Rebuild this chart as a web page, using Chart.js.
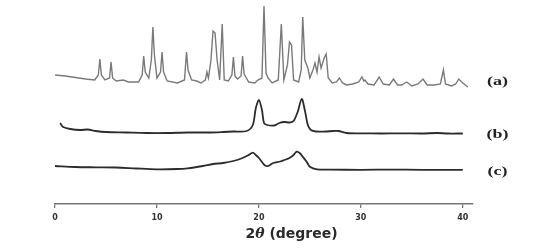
<!DOCTYPE html>
<html><head><meta charset="utf-8">
<script src="https://cdn.jsdelivr.net/npm/chart.js@4.4.0/dist/chart.umd.min.js"></script>
<style>html,body{margin:0;padding:0;background:#fff}canvas{display:block}</style>
</head><body><canvas id="c" width="545" height="252"></canvas>
<script>
// Pattern (a): 2-theta (degree) and offset intensity (arb. units)
const thetaA=[0.0,1.0,2.0,3.0,3.9,4.25,4.4,4.55,4.9,5.35,5.5,5.65,6.0,6.7,7.2,8.2,8.55,8.7,8.85,9.2,9.45,9.6,9.75,10.0,10.35,10.5,10.65,11.0,12.0,12.7,12.9,13.05,13.4,13.9,14.3,14.75,14.9,15.05,15.3,15.5,15.7,15.9,16.15,16.4,16.6,17.0,17.35,17.5,17.65,17.9,18.25,18.4,18.55,19.0,19.6,19.9,20.3,20.5,20.7,20.9,21.3,21.9,22.2,22.45,22.8,23.0,23.2,23.4,23.9,24.15,24.3,24.5,24.8,25.0,25.3,25.5,25.7,25.9,26.1,26.4,26.6,26.8,27.2,27.6,27.9,28.2,28.6,29.2,29.8,30.1,30.3,30.4,30.7,31.3,31.8,32.2,32.8,33.2,33.6,34.0,34.5,35.0,35.6,36.1,36.5,37.2,37.8,38.1,38.3,38.9,39.3,39.6,40.0,40.5];
const intensityA=[129,128,126.5,125,124,129,145,129,124,126,142,126,123,124,122,122,129,148,132,126,144,177,149,126,132,152,132,123,121,124,152,134,124,123,121,124,132,126,144,173,171,144,124,180,124,123,129,147,128,125,128,148,130,122,121,124,126,198,131,126,121,124,180,124,139,162,159,124,122,134,187,144,136,126,134,141,132,147,136,146,150,126,121,122,126,121,119,120,122,127,123,124,120,119,127,120,119,125,119,119,122,118,120,125,119,119,120,134,120,118,120,125,121,117];
// Pattern (b)
const thetaB=[0.5,0.8,1.5,2.5,3.2,4.0,5.0,7.0,9.0,11,13,15,16.5,17.5,18.8,19.4,19.7,20.0,20.3,20.5,20.8,21.5,22.0,22.5,23.0,23.4,23.8,24.2,24.5,24.8,25.1,25.6,26.5,27.3,27.8,28.6,30,32,34,36,37.5,38.5,40];
const intensityB=[81,77,75,74,74.5,73,72,71.5,71,71,71.5,71.5,72,72.5,73,79,96,104,94,81,79,78.5,81,82,81.5,83,92,105,94,79,74,72.5,72.5,73,73,71,70.7,70.5,70.7,70.5,71,70.5,70.5];
// Pattern (c)
const thetaC=[0,2,4,6,8,10,12,13,14.5,15.5,16.5,17.5,18.4,19.0,19.4,19.7,20.0,20.3,20.6,20.9,21.4,22.1,22.5,23.0,23.4,23.7,24.0,24.3,24.7,25.0,25.7,27,30,33,36,40];
const intensityC=[38,37,36.7,36.5,35.5,34.7,35,35.7,38,40,41,43,46,49,51.3,49,46,42,38.5,38,41,42.5,44,46,49,52.3,51,47.3,42,37.3,34.7,34.4,34.2,34.4,34.2,34.2];
// Axis ticks and labels
const tickValues=[0,10,20,30,40];
const seriesLabels=['(a)','(b)','(c)'];
const titleParts=['2','\u03b8',' (degree)'];

const toPts=(xs,ys)=>xs.map((x,i)=>({x:x,y:ys[i]}));

const labelPlugin={
  id:'labels',
  afterDraw(chart){
    const ctx=chart.ctx, xs=chart.scales.x, ys=chart.scales.y;
    ctx.save();
    const series=[intensityA,intensityB,intensityC];
    const lift=[-5,1.5,1.8];
    ctx.fillStyle='#222';
    ctx.font='bold 12px "Liberation Serif"';
    ctx.textBaseline='middle';
    ctx.textAlign='center';
    series.forEach((arr,i)=>{
      const px=xs.getPixelForValue(43.4);
      const py=ys.getPixelForValue(arr[arr.length-1]-lift[i]);
      ctx.save();
      ctx.translate(px,py);
      ctx.scale(1.5,1);
      ctx.fillText(seriesLabels[i],0,0);
      ctx.restore();
    });
    const fonts=['bold 14px "DejaVu Sans"','italic bold 14px "DejaVu Serif"','bold 14px "DejaVu Sans"'];
    let widths=titleParts.map((t,i)=>{ctx.font=fonts[i];return ctx.measureText(t).width;});
    const total=widths.reduce((a,b)=>a+b,0);
    let x=xs.getPixelForValue(23.2)-total/2;
    const y=xs.bottom-18;
    ctx.textAlign='left';
    ctx.fillStyle='#2a2a2a';
    titleParts.forEach((t,i)=>{ctx.font=fonts[i];ctx.fillText(t,x,y);x+=widths[i];});
    ctx.restore();
  }
};

new Chart(document.getElementById('c'),{
  type:'line',
  data:{datasets:[
    {data:toPts(thetaA,intensityA),borderColor:'#7a7a7a',borderWidth:1.4,pointRadius:0,tension:0,fill:false},
    {data:toPts(thetaB,intensityB),borderColor:'#2c2c2c',borderWidth:1.8,pointRadius:0,tension:0.3,fill:false},
    {data:toPts(thetaC,intensityC),borderColor:'#2c2c2c',borderWidth:1.8,pointRadius:0,tension:0.3,fill:false}
  ]},
  options:{
    responsive:false,animation:false,
    layout:{padding:{left:55,right:72,top:0,bottom:0}},
    plugins:{legend:{display:false},tooltip:{enabled:false}},
    scales:{
      x:{type:'linear',min:0,max:41,
        afterBuildTicks(s){s.ticks=tickValues.map(v=>({value:v}));},
        afterFit(s){s.height=48;},
        grid:{display:true,drawOnChartArea:false,drawTicks:true,tickLength:4,color:'#777',lineWidth:1.3},
        border:{display:true,color:'#777',width:1.5},
        ticks:{padding:5,color:'#333',font:{family:'"DejaVu Sans"',size:8,weight:'bold'},maxRotation:0}
      },
      y:{display:false,min:0,max:204}
    }
  },
  plugins:[labelPlugin]
});
</script>
</body></html>
